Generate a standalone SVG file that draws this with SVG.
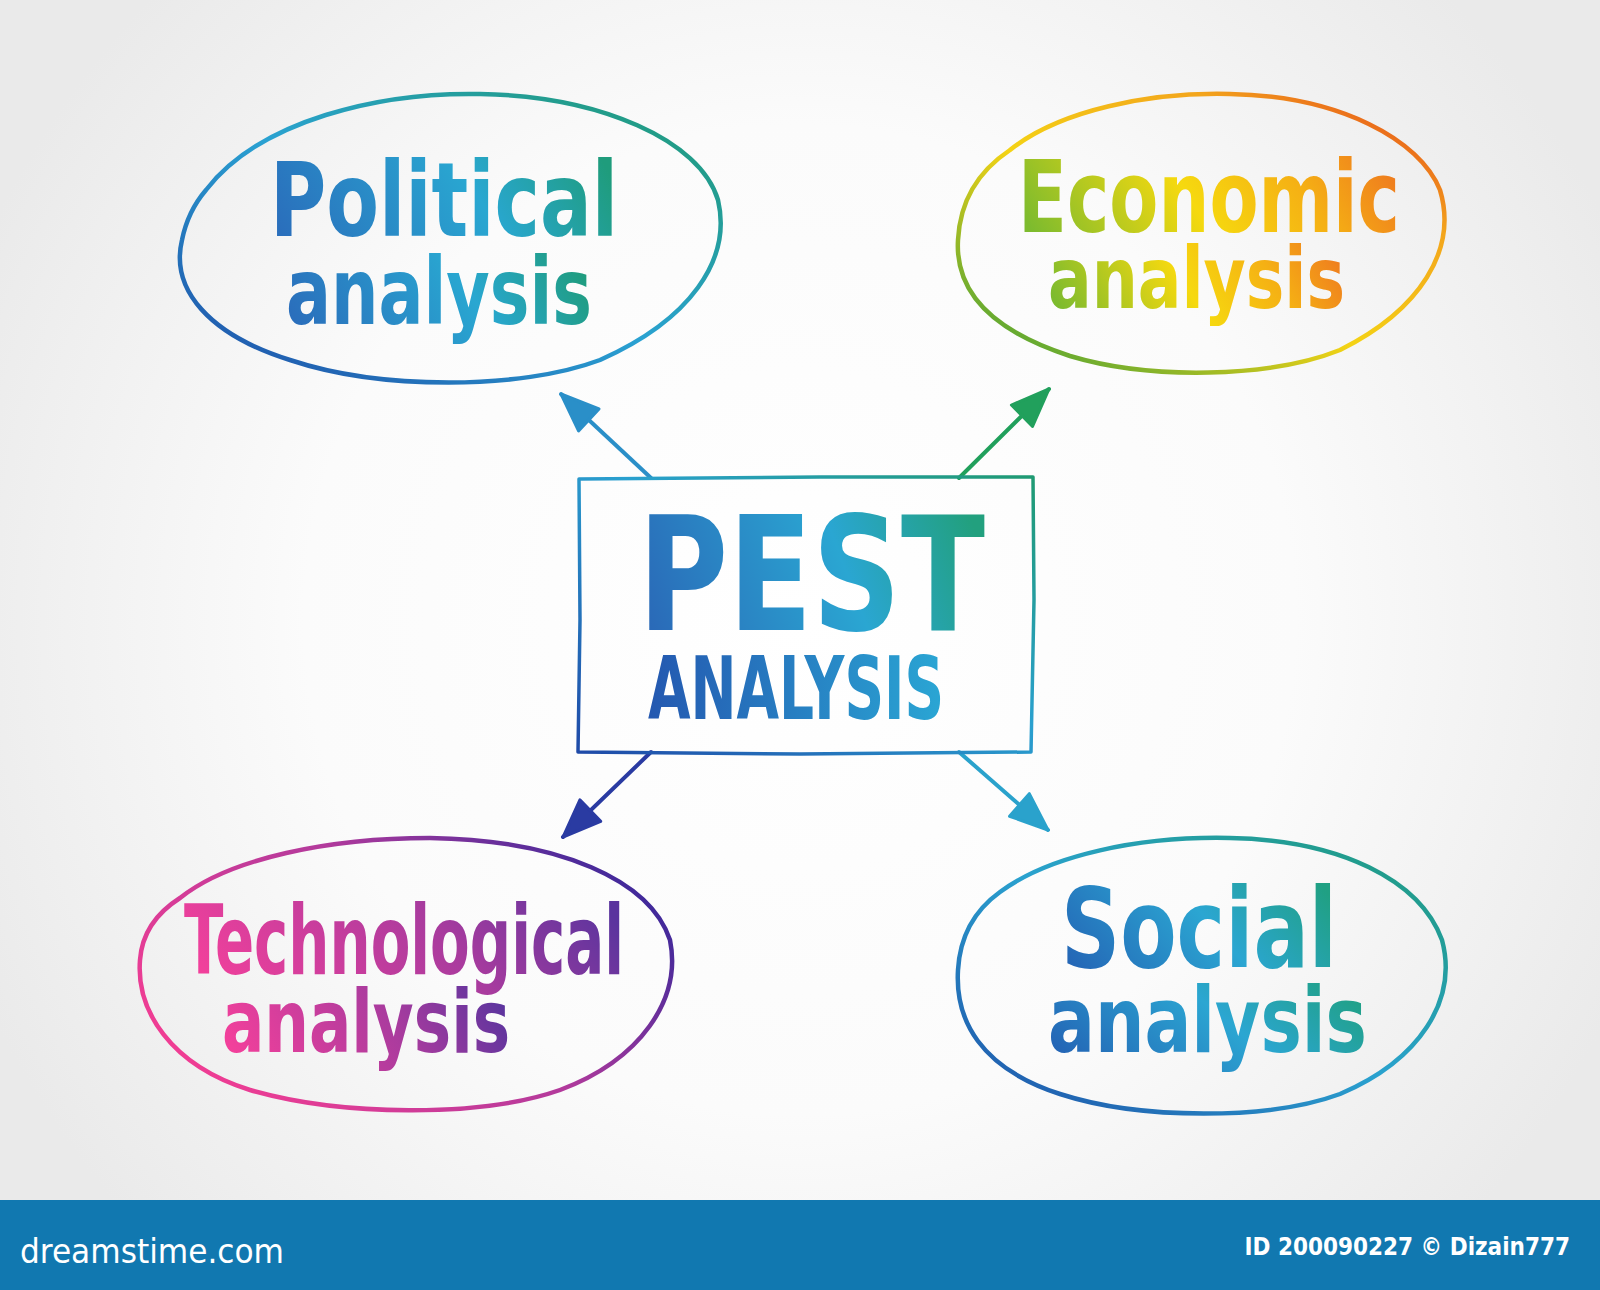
<svg xmlns="http://www.w3.org/2000/svg" width="1600" height="1290" viewBox="0 0 1600 1290">
<defs>
<radialGradient id="bg" cx="800" cy="620" r="900" gradientUnits="userSpaceOnUse">
<stop offset="0" stop-color="#ffffff"/><stop offset="0.55" stop-color="#fbfbfb"/><stop offset="1" stop-color="#eaeaea"/>
</radialGradient>
<linearGradient id="gPol" x1="0" y1="1" x2="1" y2="0">
<stop offset="0" stop-color="#1e4aa6"/><stop offset="0.5" stop-color="#2aa2d2"/><stop offset="1" stop-color="#1f9a6e"/>
</linearGradient>
<linearGradient id="gPolT" x1="0" y1="0.6" x2="1" y2="0.4">
<stop offset="0" stop-color="#2a6fbc"/><stop offset="0.6" stop-color="#29a7d1"/><stop offset="1" stop-color="#1f9c7c"/>
</linearGradient>
<linearGradient id="gEco" x1="0" y1="1" x2="1" y2="0">
<stop offset="0" stop-color="#2e9a3c"/><stop offset="0.45" stop-color="#f4d315"/><stop offset="0.75" stop-color="#f3a51c"/><stop offset="1" stop-color="#e2361a"/>
</linearGradient>
<linearGradient id="gEcoT" x1="0" y1="0.6" x2="1" y2="0.4">
<stop offset="0" stop-color="#7dbb2e"/><stop offset="0.45" stop-color="#f6d90f"/><stop offset="0.75" stop-color="#f5b014"/><stop offset="1" stop-color="#ef7d1e"/>
</linearGradient>
<linearGradient id="gTec" x1="0" y1="0.7" x2="1" y2="0.2">
<stop offset="0" stop-color="#f23d93"/><stop offset="0.55" stop-color="#b23a9c"/><stop offset="1" stop-color="#33279a"/>
</linearGradient>
<linearGradient id="gTecT" x1="0" y1="0.6" x2="1" y2="0.4">
<stop offset="0" stop-color="#f2409b"/><stop offset="0.6" stop-color="#a83b9e"/><stop offset="1" stop-color="#5a349e"/>
</linearGradient>
<linearGradient id="gSoc" x1="0" y1="1" x2="1" y2="0">
<stop offset="0" stop-color="#1e4fa8"/><stop offset="0.5" stop-color="#2aa2cf"/><stop offset="1" stop-color="#1e9a76"/>
</linearGradient>
<linearGradient id="gSocT" x1="0" y1="0.7" x2="1" y2="0.3">
<stop offset="0" stop-color="#2466b6"/><stop offset="0.55" stop-color="#2ba6d2"/><stop offset="1" stop-color="#20a083"/>
</linearGradient>
<linearGradient id="gBox" x1="0" y1="1" x2="1" y2="0">
<stop offset="0" stop-color="#1f4aa8"/><stop offset="0.55" stop-color="#2aa0cf"/><stop offset="1" stop-color="#1f9a72"/>
</linearGradient>
<linearGradient id="gPest" x1="0" y1="0.6" x2="1" y2="0.4">
<stop offset="0" stop-color="#2a6ab8"/><stop offset="0.6" stop-color="#2aa6d2"/><stop offset="1" stop-color="#22a07e"/>
</linearGradient>
<linearGradient id="gAna" x1="0" y1="0.5" x2="1" y2="0.5">
<stop offset="0" stop-color="#2458b0"/><stop offset="1" stop-color="#2aa6d4"/>
</linearGradient>
<marker id="hTL" markerUnits="userSpaceOnUse" markerWidth="50" markerHeight="40" refX="40" refY="0" viewBox="-4 -20 50 40" orient="auto"><path d="M2,-15 L40,0 L2,15 Z" fill="#2a8fc8" stroke="#2a8fc8" stroke-width="3" stroke-linejoin="round"/></marker>
<marker id="hTR" markerUnits="userSpaceOnUse" markerWidth="50" markerHeight="40" refX="40" refY="0" viewBox="-4 -20 50 40" orient="auto"><path d="M2,-15 L40,0 L2,15 Z" fill="#21a05c" stroke="#21a05c" stroke-width="3" stroke-linejoin="round"/></marker>
<marker id="hBL" markerUnits="userSpaceOnUse" markerWidth="50" markerHeight="40" refX="40" refY="0" viewBox="-4 -20 50 40" orient="auto"><path d="M2,-15 L40,0 L2,15 Z" fill="#2a3ba2" stroke="#2a3ba2" stroke-width="3" stroke-linejoin="round"/></marker>
<marker id="hBR" markerUnits="userSpaceOnUse" markerWidth="50" markerHeight="40" refX="40" refY="0" viewBox="-4 -20 50 40" orient="auto"><path d="M2,-15 L40,0 L2,15 Z" fill="#2aa2cc" stroke="#2aa2cc" stroke-width="3" stroke-linejoin="round"/></marker>
</defs>
<style>
.hand{font-family:"DejaVu Sans Condensed","DejaVu Sans","Liberation Sans",sans-serif;font-weight:bold;}
.oval{fill:none;stroke-width:4.5;stroke-linecap:round;stroke-linejoin:round;}
.link{fill:none;stroke-width:4;stroke-linecap:round;}
.foot{font-family:"Liberation Sans Narrow","DejaVu Sans Condensed","Liberation Sans",sans-serif;fill:#ffffff;}
</style>
<rect x="0" y="0" width="1600" height="1200" fill="url(#bg)"/>

<g id="connectors">
<line class="link" x1="651" y1="478" x2="561" y2="394" stroke="#2a8fc8" marker-end="url(#hTL)"/>
<line class="link" x1="959" y1="478" x2="1049" y2="389" stroke="#21a05c" marker-end="url(#hTR)"/>
<line class="link" x1="651" y1="752" x2="563" y2="837" stroke="#2a3ba2" marker-end="url(#hBL)"/>
<line class="link" x1="959" y1="752" x2="1048" y2="830" stroke="#2aa2cc" marker-end="url(#hBR)"/>
</g>

<g id="node-political">
<path class="oval" stroke="url(#gPol)" d="M206,190 C260,120 380,92 480,94 C600,96 700,140 718,200 C732,260 690,320 600,360 C520,390 380,390 290,360 C210,335 170,290 182,240 C186,220 194,204 206,190"/>
<text class="hand" x="270" y="236" font-size="104" textLength="348" lengthAdjust="spacingAndGlyphs" fill="url(#gPolT)">Political</text>
<text class="hand" x="286" y="324" font-size="92" textLength="306" lengthAdjust="spacingAndGlyphs" fill="url(#gPolT)">analysis</text>
</g>

<g id="node-economic">
<path class="oval" stroke="url(#gEco)" d="M1010,150 C1060,110 1150,92 1230,94 C1340,96 1420,140 1440,190 C1458,250 1420,310 1340,350 C1270,378 1150,380 1070,356 C990,330 955,290 958,240 C960,200 980,170 1010,150"/>
<text class="hand" x="1018" y="232" font-size="100" textLength="382" lengthAdjust="spacingAndGlyphs" fill="url(#gEcoT)">Economic</text>
<text class="hand" x="1048" y="308" font-size="86" textLength="297" lengthAdjust="spacingAndGlyphs" fill="url(#gEcoT)">analysis</text>
</g>

<g id="node-technological">
<path class="oval" stroke="url(#gTec)" d="M180,898 C230,858 330,838 430,838 C560,840 650,880 670,940 C682,1000 640,1060 560,1090 C480,1118 340,1116 250,1090 C170,1065 136,1010 140,960 C142,932 158,912 180,898"/>
<text class="hand" x="184" y="974" font-size="96" textLength="440" lengthAdjust="spacingAndGlyphs" fill="url(#gTecT)">Technological</text>
<text class="hand" x="222" y="1052" font-size="88" textLength="288" lengthAdjust="spacingAndGlyphs" fill="url(#gTecT)">analysis</text>
</g>

<g id="node-social">
<path class="oval" stroke="url(#gSoc)" d="M1000,892 C1050,855 1140,836 1230,838 C1340,840 1420,880 1442,940 C1458,1000 1420,1060 1340,1094 C1270,1120 1140,1120 1060,1094 C980,1068 955,1020 958,970 C960,935 975,910 1000,892"/>
<text class="hand" x="1061" y="967" font-size="110" textLength="276" lengthAdjust="spacingAndGlyphs" fill="url(#gSocT)">Social</text>
<text class="hand" x="1048" y="1052" font-size="90" textLength="319" lengthAdjust="spacingAndGlyphs" fill="url(#gSocT)">analysis</text>
</g>

<g id="node-pest">
<path d="M579,479 L820,477 L1033,477 L1034,600 L1031,752 L800,754 L578,752 L580,620 Z" fill="none" stroke="url(#gBox)" stroke-width="3.5" stroke-linejoin="round"/>
<text class="hand" x="638" y="630" font-size="158" textLength="347" lengthAdjust="spacingAndGlyphs" fill="url(#gPest)">PEST</text>
<text class="hand" x="648" y="719" font-size="88" font-weight="600" textLength="296" lengthAdjust="spacingAndGlyphs" fill="url(#gAna)">ANALYSIS</text>
</g>

<g id="footer">
<rect x="0" y="1200" width="1600" height="90" fill="#1178b0"/>
<text class="foot" x="20" y="1263" font-size="34" textLength="264" lengthAdjust="spacingAndGlyphs">dreamstime.com</text>
<text class="foot" x="1570" y="1255" font-size="24" font-weight="bold" text-anchor="end">ID 200090227 © Dizain777</text>
</g>
</svg>
